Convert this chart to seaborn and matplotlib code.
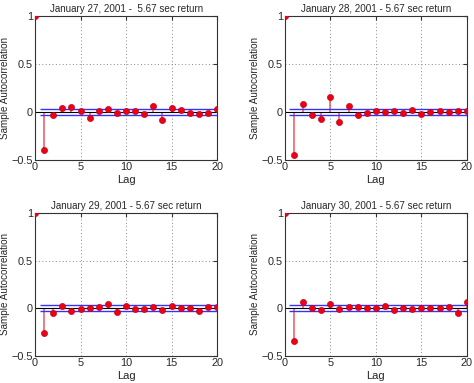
import matplotlib
matplotlib.use("Agg")
import matplotlib.pyplot as plt
import numpy as np
import pandas as pd
import seaborn as sns


LAGS = list(range(0, 21))

TITLES = [
    "January 27, 2001 -  5.67 sec return",
    "January 28, 2001 - 5.67 sec return",
    "January 29, 2001 - 5.67 sec return",
    "January 30, 2001 - 5.67 sec return",
]

ACF_JAN27 = [1.0, -0.39, -0.035, 0.04, 0.05, 0.01, -0.06, 0.015, 0.035, -0.005,
             0.01, 0.01, -0.015, 0.06, -0.085, 0.04, 0.025, -0.01, -0.015, -0.01, 0.035]
ACF_JAN28 = [1.0, -0.445, 0.085, -0.03, -0.07, 0.155, -0.10, 0.06, -0.03, -0.007,
             0.01, 0.003, 0.007, -0.01, 0.025, -0.015, 0.003, 0.007, 0.0, 0.014, 0.007]
ACF_JAN29 = [1.0, -0.26, -0.05, 0.018, -0.025, -0.007, 0.007, 0.01, 0.042, -0.035,
             0.02, -0.01, -0.01, 0.014, -0.018, 0.028, 0.003, 0.007, -0.025, 0.01, 0.01]
ACF_JAN30 = [1.0, -0.34, 0.067, 0.007, -0.02, 0.045, -0.007, 0.01, 0.01, 0.0,
             0.0, 0.025, -0.018, 0.007, -0.007, 0.0, 0.007, 0.007, 0.01, -0.052, 0.067]

BOUND = 0.03

SERIES = [ACF_JAN27, ACF_JAN28, ACF_JAN29, ACF_JAN30]

# axes positions in figure fractions (left, bottom, width, height)
POSITIONS = [
    [0.074, 0.582, 0.384, 0.376],
    [0.601, 0.582, 0.384, 0.376],
    [0.074, 0.071, 0.384, 0.373],
    [0.601, 0.071, 0.384, 0.373],
]


def plot_acf(ax, values, title):
    df = pd.DataFrame({"lag": LAGS, "acf": values})

    ax.grid(True, linestyle=(0, (1, 2.5)), color="#888888", linewidth=0.7)
    ax.vlines(df["lag"], 0, df["acf"], color="#e0202a", linewidth=1.1, alpha=0.75, zorder=2)
    ax.hlines(0, 0, 20, color="black", linewidth=0.8, zorder=2)
    ax.hlines([BOUND, -BOUND], 0.5, 20, color="#3333ff", linewidth=1.0, zorder=3)
    sns.scatterplot(data=df, x="lag", y="acf", ax=ax, color="#ee0010",
                    s=20, edgecolor="#b00020", linewidth=0.4, zorder=4, legend=False)

    ax.set_xlim(0, 20)
    ax.set_ylim(-0.5, 1)
    ax.set_xticks([0, 5, 10, 15, 20])
    ax.set_yticks([-0.5, 0, 0.5, 1])
    ax.set_yticklabels(["\u22120.5", "0", "0.5", "1"])
    ax.tick_params(direction="in", length=3, labelsize=7.8, pad=1.5,
                   top=True, right=True, color="#333333")
    ax.set_xlabel("Lag", fontsize=8, labelpad=2)
    ax.set_ylabel("Sample Autocorrelation", fontsize=7.1, labelpad=1)
    ax.set_title(title, fontsize=7.1, pad=3)
    for spine in ax.spines.values():
        spine.set_color("#333333")
        spine.set_linewidth(0.8)
        spine.set_visible(True)


def main():
    sns.set_style("white")
    plt.rcParams["font.family"] = ["Liberation Sans", "DejaVu Sans"]

    fig = plt.figure(figsize=(4.74, 3.83), dpi=100)
    for pos, values, title in zip(POSITIONS, SERIES, TITLES):
        ax = fig.add_axes(pos)
        plot_acf(ax, values, title)

    fig.savefig("out.png", dpi=100)
    plt.close(fig)


if __name__ == "__main__":
    main()
